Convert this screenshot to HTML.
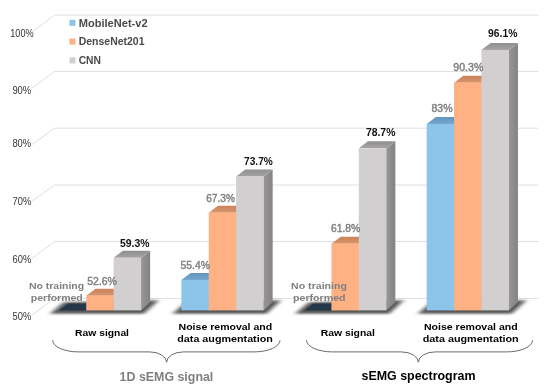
<!DOCTYPE html><html><head><meta charset="utf-8"><title>chart</title><style>html,body{margin:0;padding:0;background:#fff}svg{display:block}text{font-family:"Liberation Sans","DejaVu Sans",sans-serif}</style></head><body>
<svg width="550" height="390" viewBox="0 0 550 390">
<defs><filter id="sh" x="-20%" y="-100%" width="140%" height="300%"><feGaussianBlur stdDeviation="2.4 1.0"/></filter>
<linearGradient id="s0" x1="0" y1="0" x2="1" y2="0"><stop offset="0" stop-color="#6c9cc2"/><stop offset="1" stop-color="#5a89af"/></linearGradient>
<linearGradient id="t0" x1="0" y1="0" x2="0" y2="1"><stop offset="0" stop-color="#6495bc"/><stop offset="1" stop-color="#73a7cd"/></linearGradient>
<linearGradient id="s1" x1="0" y1="0" x2="1" y2="0"><stop offset="0" stop-color="#cc8a62"/><stop offset="1" stop-color="#b87852"/></linearGradient>
<linearGradient id="t1" x1="0" y1="0" x2="0" y2="1"><stop offset="0" stop-color="#c9845c"/><stop offset="1" stop-color="#da946c"/></linearGradient>
<linearGradient id="s2" x1="0" y1="0" x2="1" y2="0"><stop offset="0" stop-color="#989696"/><stop offset="1" stop-color="#848282"/></linearGradient>
<linearGradient id="t2" x1="0" y1="0" x2="0" y2="1"><stop offset="0" stop-color="#908e8e"/><stop offset="1" stop-color="#a5a3a3"/></linearGradient>
</defs>
<rect width="550" height="390" fill="#fff"/>
<polyline points="31.8,32.0 54.6,15.1 538.5,15.1" fill="none" stroke="#dfdfdf" stroke-width="1"/>
<polyline points="31.8,88.4 54.6,71.4 538.5,71.4" fill="none" stroke="#dfdfdf" stroke-width="1"/>
<polyline points="31.8,144.7 54.6,128.2 538.5,128.2" fill="none" stroke="#dfdfdf" stroke-width="1"/>
<polyline points="31.8,201.2 54.6,185.0 538.5,185.0" fill="none" stroke="#dfdfdf" stroke-width="1"/>
<polyline points="31.8,258.6 54.6,241.5 538.5,241.5" fill="none" stroke="#dfdfdf" stroke-width="1"/>
<polyline points="31.8,315.3 54.6,298.4 538.5,298.4" fill="none" stroke="#dfdfdf" stroke-width="1"/>
<line x1="56" y1="9.2" x2="536" y2="9.2" stroke="#f9f9f9" stroke-width="1"/>
<polygon points="49.9,313.79999999999995 143.95000000000002,313.79999999999995 158.65,300.2 63.599999999999994,302.2" fill="#000" opacity="0.66" filter="url(#sh)"/>
<polygon points="172.4,313.79999999999995 266.45000000000005,313.79999999999995 281.15000000000003,300.2 186.1,302.2" fill="#000" opacity="0.66" filter="url(#sh)"/>
<polygon points="295.1,313.79999999999995 389.15000000000003,313.79999999999995 403.85,300.2 308.8,302.2" fill="#000" opacity="0.66" filter="url(#sh)"/>
<polygon points="417.7,313.79999999999995 511.75,313.79999999999995 526.45,300.2 431.4,302.2" fill="#000" opacity="0.66" filter="url(#sh)"/>
<polygon points="58.9,310.4 86.25,310.4 95.45,303.4 68.1,303.4" fill="#24384a"/>
<polygon points="113.6,295.71 122.8,288.71 122.8,302.2 113.6,310.4" fill="url(#s1)"/>
<polygon points="86.25,295.71 113.6,295.71 122.8,288.71 95.45,288.71" fill="url(#t1)"/>
<rect x="86.25" y="295.71" width="27.55" height="14.689999999999998" fill="#ffb183"/>
<polygon points="140.95,257.855 150.14999999999998,250.85500000000002 150.14999999999998,302.2 140.95,310.4" fill="url(#s2)"/>
<polygon points="113.6,257.855 140.95,257.855 150.14999999999998,250.85500000000002 122.8,250.85500000000002" fill="url(#t2)"/>
<rect x="113.6" y="257.855" width="27.55" height="52.54499999999996" fill="#d1cfcf"/>
<polygon points="208.75,279.89 217.95,272.89 217.95,302.2 208.75,310.4" fill="url(#s0)"/>
<polygon points="181.4,279.89 208.75,279.89 217.95,272.89 190.6,272.89" fill="url(#t0)"/>
<rect x="181.4" y="279.89" width="27.55" height="30.50999999999999" fill="#8cc4ea"/>
<polygon points="236.1,212.65499999999997 245.29999999999998,205.65499999999997 245.29999999999998,302.2 236.1,310.4" fill="url(#s1)"/>
<polygon points="208.75,212.65499999999997 236.1,212.65499999999997 245.29999999999998,205.65499999999997 217.95,205.65499999999997" fill="url(#t1)"/>
<rect x="208.75" y="212.65499999999997" width="27.55" height="97.745" fill="#ffb183"/>
<polygon points="263.45000000000005,176.49499999999995 272.65000000000003,169.49499999999995 272.65000000000003,302.2 263.45000000000005,310.4" fill="url(#s2)"/>
<polygon points="236.10000000000002,176.49499999999995 263.45000000000005,176.49499999999995 272.65000000000003,169.49499999999995 245.3,169.49499999999995" fill="url(#t2)"/>
<rect x="236.10000000000002" y="176.49499999999995" width="27.55" height="133.90500000000003" fill="#d1cfcf"/>
<polygon points="304.1,310.4 331.45000000000005,310.4 340.65000000000003,303.4 313.3,303.4" fill="#24384a"/>
<polygon points="358.80000000000007,243.73 368.00000000000006,236.73 368.00000000000006,302.2 358.80000000000007,310.4" fill="url(#s1)"/>
<polygon points="331.45000000000005,243.73 358.80000000000007,243.73 368.00000000000006,236.73 340.65000000000003,236.73" fill="url(#t1)"/>
<rect x="331.45000000000005" y="243.73" width="27.55" height="66.66999999999999" fill="#ffb183"/>
<polygon points="386.15000000000003,148.24499999999995 395.35,141.24499999999995 395.35,302.2 386.15000000000003,310.4" fill="url(#s2)"/>
<polygon points="358.8,148.24499999999995 386.15000000000003,148.24499999999995 395.35,141.24499999999995 368.0,141.24499999999995" fill="url(#t2)"/>
<rect x="358.8" y="148.24499999999995" width="27.55" height="162.15500000000003" fill="#d1cfcf"/>
<polygon points="454.05,123.94999999999996 463.25,116.94999999999996 463.25,302.2 454.05,310.4" fill="url(#s0)"/>
<polygon points="426.7,123.94999999999996 454.05,123.94999999999996 463.25,116.94999999999996 435.9,116.94999999999996" fill="url(#t0)"/>
<rect x="426.7" y="123.94999999999996" width="27.55" height="186.45000000000002" fill="#8cc4ea"/>
<polygon points="481.40000000000003,82.70499999999998 490.6,75.70499999999998 490.6,302.2 481.40000000000003,310.4" fill="url(#s1)"/>
<polygon points="454.05,82.70499999999998 481.40000000000003,82.70499999999998 490.6,75.70499999999998 463.25,75.70499999999998" fill="url(#t1)"/>
<rect x="454.05" y="82.70499999999998" width="27.55" height="227.695" fill="#ffb183"/>
<polygon points="508.75,49.935 517.95,42.935 517.95,302.2 508.75,310.4" fill="url(#s2)"/>
<polygon points="481.4,49.935 508.75,49.935 517.95,42.935 490.59999999999997,42.935" fill="url(#t2)"/>
<rect x="481.4" y="49.935" width="27.55" height="260.465" fill="#d1cfcf"/>
<text x="10.3" y="37.0" font-size="10.1" font-weight="normal" fill="#333" textLength="23.3" lengthAdjust="spacingAndGlyphs">100%</text>
<text x="12.4" y="94.4" font-size="10.1" font-weight="normal" fill="#333" textLength="18.8" lengthAdjust="spacingAndGlyphs">90%</text>
<text x="12.4" y="147.4" font-size="10.1" font-weight="normal" fill="#333" textLength="18.8" lengthAdjust="spacingAndGlyphs">80%</text>
<text x="12.6" y="205.0" font-size="10.1" font-weight="normal" fill="#333" textLength="18.6" lengthAdjust="spacingAndGlyphs">70%</text>
<text x="12.6" y="262.8" font-size="10.1" font-weight="normal" fill="#333" textLength="18.6" lengthAdjust="spacingAndGlyphs">60%</text>
<text x="12.6" y="320.4" font-size="10.1" font-weight="normal" fill="#333" textLength="18.6" lengthAdjust="spacingAndGlyphs">50%</text>
<rect x="69.5" y="19.8" width="6" height="6" fill="#8cc4ea"/>
<text x="78.7" y="26.5" font-size="10.8" font-weight="bold" fill="#4a4a4a" textLength="68.9" lengthAdjust="spacingAndGlyphs">MobileNet-v2</text>
<rect x="69.5" y="38.6" width="6" height="6" fill="#ffb183"/>
<text x="78.7" y="45.1" font-size="10.8" font-weight="bold" fill="#4a4a4a" textLength="65.8" lengthAdjust="spacingAndGlyphs">DenseNet201</text>
<rect x="69.5" y="57.400000000000006" width="6" height="6" fill="#d1cfcf"/>
<text x="78.7" y="63.7" font-size="10.8" font-weight="bold" fill="#4a4a4a" textLength="22.3" lengthAdjust="spacingAndGlyphs">CNN</text>
<text x="87.2" y="284.6" font-size="10.1" font-weight="normal" fill="#7f7f7f" stroke="#7f7f7f" stroke-width="0.4" textLength="29.7" lengthAdjust="spacingAndGlyphs">52.6%</text>
<text x="120" y="247.4" font-size="10.3" font-weight="bold" fill="#111" textLength="29.5" lengthAdjust="spacingAndGlyphs">59.3%</text>
<text x="180.5" y="269.0" font-size="10.1" font-weight="normal" fill="#7f7f7f" stroke="#7f7f7f" stroke-width="0.4" textLength="29.5" lengthAdjust="spacingAndGlyphs">55.4%</text>
<text x="206.2" y="201.5" font-size="10.1" font-weight="normal" fill="#7f7f7f" stroke="#7f7f7f" stroke-width="0.4" textLength="28.7" lengthAdjust="spacingAndGlyphs">67.3%</text>
<text x="244.1" y="164.9" font-size="10.3" font-weight="bold" fill="#111" textLength="28.7" lengthAdjust="spacingAndGlyphs">73.7%</text>
<text x="331" y="232.0" font-size="10.1" font-weight="normal" fill="#7f7f7f" stroke="#7f7f7f" stroke-width="0.4" textLength="29.3" lengthAdjust="spacingAndGlyphs">61.8%</text>
<text x="365.9" y="135.6" font-size="10.3" font-weight="bold" fill="#111" textLength="29.5" lengthAdjust="spacingAndGlyphs">78.7%</text>
<text x="431.5" y="112.3" font-size="10.1" font-weight="normal" fill="#7f7f7f" stroke="#7f7f7f" stroke-width="0.4" textLength="21.1" lengthAdjust="spacingAndGlyphs">83%</text>
<text x="453.3" y="70.8" font-size="10.1" font-weight="normal" fill="#7f7f7f" stroke="#7f7f7f" stroke-width="0.4" textLength="30.0" lengthAdjust="spacingAndGlyphs">90.3%</text>
<text x="488" y="37.4" font-size="10.3" font-weight="bold" fill="#111" textLength="29.4" lengthAdjust="spacingAndGlyphs">96.1%</text>
<text x="29" y="288.8" font-size="9.8" font-weight="bold" fill="#7f7f7f" textLength="55.1" lengthAdjust="spacingAndGlyphs">No training</text>
<text x="30.8" y="300.5" font-size="9.8" font-weight="bold" fill="#7f7f7f" textLength="52.0" lengthAdjust="spacingAndGlyphs">performed</text>
<text x="291" y="289.2" font-size="9.8" font-weight="bold" fill="#7f7f7f" textLength="56" lengthAdjust="spacingAndGlyphs">No training</text>
<text x="293" y="300.8" font-size="9.8" font-weight="bold" fill="#7f7f7f" textLength="52.6" lengthAdjust="spacingAndGlyphs">performed</text>
<text x="75.1" y="336.3" font-size="9.8" font-weight="bold" fill="#000" textLength="53.9" lengthAdjust="spacingAndGlyphs">Raw signal</text>
<text x="178.6" y="329.5" font-size="9.8" font-weight="bold" fill="#000" textLength="93.6" lengthAdjust="spacingAndGlyphs">Noise removal and</text>
<text x="177.3" y="342.2" font-size="9.8" font-weight="bold" fill="#000" textLength="95.5" lengthAdjust="spacingAndGlyphs">data augmentation</text>
<text x="320.7" y="336.3" font-size="9.8" font-weight="bold" fill="#000" textLength="54.3" lengthAdjust="spacingAndGlyphs">Raw signal</text>
<text x="424" y="329.5" font-size="9.8" font-weight="bold" fill="#000" textLength="93.6" lengthAdjust="spacingAndGlyphs">Noise removal and</text>
<text x="422.7" y="342.2" font-size="9.8" font-weight="bold" fill="#000" textLength="96.0" lengthAdjust="spacingAndGlyphs">data augmentation</text>
<path d="M52.7,340.3 A26 11.599999999999966 0 0 0 78.7,351.9 L149.6,351.9 A17 10.300000000000011 0 0 1 166.6,362.2 A17 10.300000000000011 0 0 1 183.6,351.9 L254,351.9 A26 11.599999999999966 0 0 0 280,340.3" fill="none" stroke="#5a5a5a" stroke-width="0.9"/>
<path d="M306.5,340.3 A26 11.599999999999966 0 0 0 332.5,351.9 L401.3,351.9 A17 10.300000000000011 0 0 1 418.3,362.2 A17 10.300000000000011 0 0 1 435.3,351.9 L506.5,351.9 A26 11.599999999999966 0 0 0 532.5,340.3" fill="none" stroke="#5a5a5a" stroke-width="0.9"/>
<text x="119.6" y="380.5" font-size="13.5" font-weight="bold" fill="#7f7f7f" textLength="93.7" lengthAdjust="spacingAndGlyphs">1D sEMG signal</text>
<text x="361.5" y="380.4" font-size="13.5" font-weight="bold" fill="#000" textLength="114.0" lengthAdjust="spacingAndGlyphs">sEMG spectrogram</text>
</svg></body></html>
